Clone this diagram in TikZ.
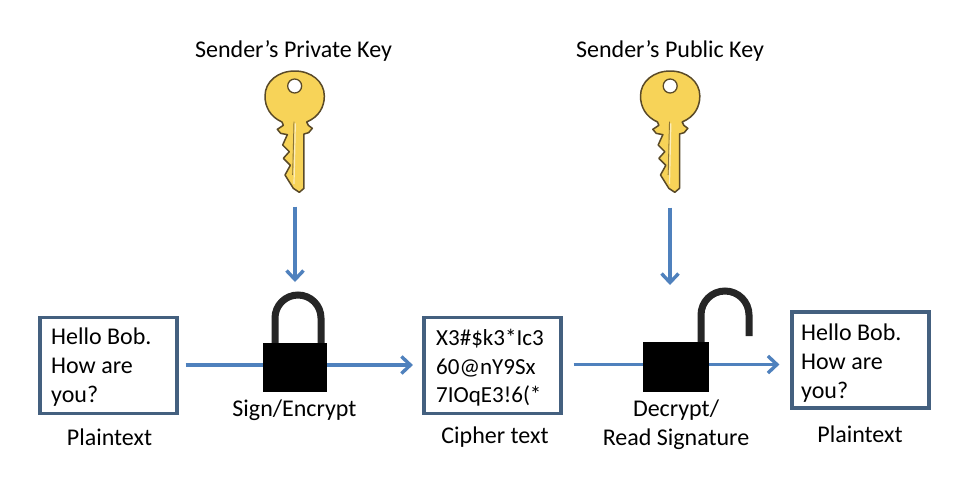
\documentclass[tikz,border=0pt]{standalone}
\usepackage{fontspec}
\setmainfont{Carlito}
\usetikzlibrary{arrows.meta}
\definecolor{boxc}{HTML}{44607F}
\definecolor{arrc}{HTML}{4F81BD}
\definecolor{keyf}{HTML}{F7D358}
\definecolor{keyd}{HTML}{5A4A28}
\definecolor{shk}{HTML}{262626}
\tikzset{
  x=1pt,y=-1pt,
  msgbox/.style={draw=boxc,line width=3.2pt,fill=white,minimum width=137pt,minimum height=96pt,inner sep=0pt},
  msgtext/.style={font=\fontsize{24}{29}\selectfont,align=left,anchor=north west,inner sep=0pt,text=black},
  caption/.style={font=\fontsize{24}{29}\selectfont,align=center,inner sep=0pt,text=black},
  flow/.style={draw=arrc,line width=3.8pt,-{Straight Barb[length=9pt,width=17pt,line width=3.4pt]}},
  flowplain/.style={draw=arrc,line width=3.8pt},
  lockbody/.style={fill=black,draw=none,inner sep=0pt},
  shackle/.style={draw=shk,line width=7pt},
  keyshape/.style={fill=keyf,draw=keyd,line width=1.5pt,line join=round},
  keyarea/.style={inner sep=0pt,minimum width=60pt,minimum height=122pt},
  keydraw/.pic={
    \begin{scope}[x=0.3333pt,y=-0.3333pt]
    \path[keyshape] (126,186) .. controls (90,170) and (75,140) .. (75,108)
      .. controls (75,64) and (115,33) .. (164,33)
      .. controls (213,33) and (253,64) .. (253,108)
      .. controls (253,140) and (238,170) .. (200,186)
      -- (205,196) -- (217,205) -- (206,218) -- (192,222) -- (192,385) -- (178,397)
      -- (160,385) -- (135,345) -- (151,316) -- (130,295) -- (148,275) -- (128,255)
      -- (142,224) -- (122,220) -- (112,208) -- (130,196) -- cycle;
    \fill[white] (164,78) circle (21);
    \draw[keyd,line width=1.3pt] (164,78) circle (21);
    \draw[keyd!70!keyf,line width=0.9pt] (162,185) -- (158,345);
    \draw[white!60!keyf,line width=1.2pt] (166,190) -- (162,372);
    \end{scope}
  }
}
\begin{document}
\begin{tikzpicture}
\useasboundingbox (0,0) rectangle (960,480);
\fill[white] (0,0) rectangle (960,480);

% captions of the keys
\node[caption] (capA) at (293.5,51) {Sender’s Private Key};
\node[caption] (capB) at (670,51) {Sender’s Public Key};

% keys
\pic at (240,60) {keydraw};
\pic at (615.5,60) {keydraw};
\node[keyarea] (keyA) at (295,131.5) {};
\node[keyarea] (keyB) at (670.5,131.5) {};

% shackles
\draw[shackle] (275,343) -- (275,318) arc[start angle=180,end angle=0,radius=23pt] -- (321,343);
\draw[shackle] (701,342) -- (701,315) arc[start angle=180,end angle=0,radius=24pt] -- (749,336);

% message boxes
\node[msgbox] (plainA) at (108.5,365.5) {};
\node[msgbox] (cipher) at (492.5,365.5) {};
\node[msgbox] (plainB) at (860.5,360) {};
\node[msgtext] (txtA) at (51,328) {Hello Bob.\\How are\\you?};
\node[msgtext,font=\fontsize{23}{28.5}\selectfont] (txtC) at (436,329) {X3\#\$k3*Ic3\\60@nY9Sx\\7IOqE3!6(*};
\node[msgtext] (txtB) at (801,324) {Hello Bob.\\How are\\you?};

% locks
\node[lockbody,minimum width=64pt,minimum height=49pt] (lockA) at (295,367.5) {};
\node[lockbody,minimum width=66pt,minimum height=50pt] (lockB) at (676,367) {};
\coordinate (topA) at (295,282);
\coordinate (topB) at (670,285);

% connectors
\draw[flowplain,shorten <=7pt] (plainA.east |- 0,365) -- (lockA.west |- 0,365);
\draw[flow,shorten >=9.5pt] (lockA.east |- 0,365) -- (cipher.west |- 0,365);
\draw[flowplain,shorten <=11pt] (cipher.east |- 0,364.5) -- (lockB.west |- 0,364.5);
\draw[flow,shorten >=11pt] (lockB.east |- 0,364.5) -- (plainB.west |- 0,364.5);
\draw[flow,shorten <=14pt] (keyA.south) -- (topA);
\draw[flow,shorten <=15pt] (keyB.south -| topB) -- (topB);

% captions
\node[caption] (capC) at (109.5,437) {Plaintext};
\node[caption] (capD) at (294.5,410) {Sign/Encrypt};
\node[caption] (capE) at (495,437) {Cipher text};
\node[caption] (capF) at (676,425) {Decrypt/\\Read Signature};
\node[caption] (capG) at (860,434) {Plaintext};
\end{tikzpicture}
\end{document}
